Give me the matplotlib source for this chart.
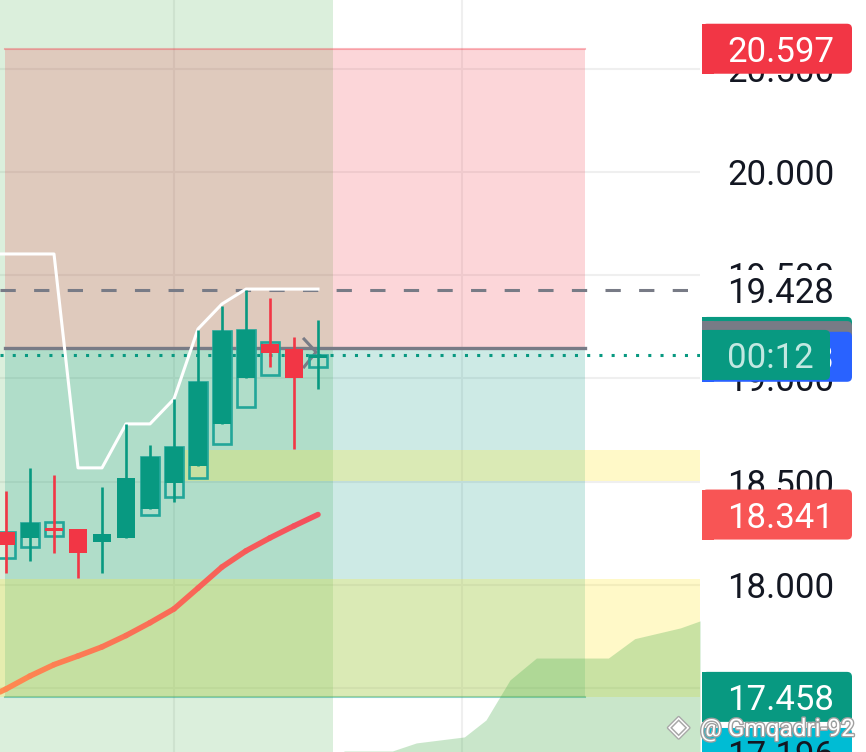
# Recreation of a trading chart screenshot (candles + position tool + price scale)
import numpy as np
import matplotlib.pyplot as plt
from matplotlib.patches import Rectangle, FancyBboxPatch
from matplotlib.collections import LineCollection
from matplotlib.colors import to_rgb
import matplotlib.patheffects as pe

plt.rcParams['font.family'] = ['Roboto', 'DejaVu Sans']

# candles, index 0 = leftmost visible bar
opens  = [18.255, 18.226, 18.275, 18.271, 18.207, 18.226, 18.368, 18.495, 18.578, 18.780, 19.004, 19.167, 19.141, 19.098]
highs  = [18.455, 18.565, 18.533, 18.272, 18.473, 18.780, 18.678, 18.901, 19.235, 19.351, 19.429, 19.388, 19.199, 19.283]
lows   = [18.057, 18.118, 18.153, 18.035, 18.057, 18.226, 18.368, 18.403, 18.578, 18.780, 19.004, 19.057, 18.657, 18.948]
closes = [18.194, 18.299, 18.263, 18.153, 18.247, 18.517, 18.618, 18.668, 18.983, 19.230, 19.235, 19.122, 19.004, 19.114]

# hollow (overlay) candle bodies
ghost_idx = [0, 1, 2, 6, 7, 8, 9, 10, 11, 13]
ghost_top = [18.255, 18.299, 18.304, 18.618, 18.668, 18.983, 19.230, 19.235, 19.178, 19.114]
ghost_bot = [18.129, 18.185, 18.239, 18.337, 18.425, 18.520, 18.683, 18.861, 19.017, 19.054]

# moving average
ma_x = [-0.25, 0, 1, 2, 3, 4, 5, 6, 7, 8, 9, 10, 11, 12, 13]
ma_y = [17.482, 17.496, 17.559, 17.614, 17.656, 17.700, 17.755, 17.817, 17.884,
        17.985, 18.087, 18.165, 18.228, 18.286, 18.341]

# white stepped indicator
wl_x = [-0.25, 2, 3, 4, 5, 6, 7, 8, 9, 10, 13]
wl_y = [19.603, 19.603, 18.567, 18.567, 18.780, 18.780, 18.901, 19.240, 19.361, 19.433, 19.433]

# cloud upper edge
cloud_x = [14.08, 16.1, 17.1, 19.1, 20.0, 21.0, 22.1, 25.1, 26.2, 28.1, 28.92]
cloud_y = [17.196, 17.196, 17.235, 17.264, 17.346, 17.540, 17.646, 17.646, 17.740, 17.792, 17.826]

# levels
stop_price = 20.597
entry_price = 19.148
target_price = 17.458
last_price = 19.114
high_level = 19.428
ma_last = 18.341
cloud_label = 17.196
zone1 = (18.504, 18.654)
zone2 = (17.458, 18.029)
pos_left, pos_right = -0.04, 24.125
session_end = 13.625
zone1_left = 7.42
chev_x = [12.42, 12.92, 12.42]
chev_y = [19.191, 19.128, 19.056]

grid_prices = [20.5, 20.0, 19.5, 19.0, 18.5, 18.0, 17.5]
grid_bars = [7, 19]

YLIM = (17.191, 20.833)
XLIM = (-0.25, 28.917)
PX = (YLIM[1] - YLIM[0]) / 752.0

TEAL = '#089981'
RED = '#F23645'

fig = plt.figure(figsize=(8.66, 7.52), dpi=100)
ax = fig.add_axes([0, 0, 700 / 866, 1])
ax.set_xlim(*XLIM)
ax.set_ylim(*YLIM)
ax.axis('off')

# grid
for p in grid_prices:
    ax.axhline(p, color='#EFEFEF', lw=1.5, zorder=0)
for b in grid_bars:
    ax.axvline(b, color='#EFEFEF', lw=1.5, zorder=0)

# session band
ax.axvspan(XLIM[0], session_end, color='#4CAF50', alpha=0.2, lw=0, zorder=1)

# position tool
ax.add_patch(Rectangle((pos_left, entry_price), pos_right - pos_left, stop_price - entry_price,
                       fc=RED, alpha=0.2, lw=0, zorder=2))
ax.add_patch(Rectangle((pos_left, target_price), pos_right - pos_left, entry_price - target_price,
                       fc=TEAL, alpha=0.2, lw=0, zorder=2))
ax.plot([pos_left, pos_right], [stop_price, stop_price], color=RED, alpha=0.35, lw=1.5, zorder=2)
ax.plot([pos_left, pos_right], [target_price, target_price], color=TEAL, alpha=0.45, lw=1.5, zorder=2)

# yellow zones
ax.add_patch(Rectangle((zone1_left, zone1[0]), XLIM[1] - zone1_left, zone1[1] - zone1[0],
                       fc='#FFEB3B', alpha=0.28, lw=0, zorder=3))
ax.add_patch(Rectangle((XLIM[0], zone2[0]), XLIM[1] - XLIM[0], zone2[1] - zone2[0],
                       fc='#FFEB3B', alpha=0.28, lw=0, zorder=3))

# cloud
ax.fill_between(cloud_x, cloud_y, 17.0, color='#4CAF50', alpha=0.3, lw=0, zorder=3)

# level lines
ax.plot([pos_left, pos_right], [entry_price, entry_price], color='#787B86', lw=2.4, zorder=4)
ax.axhline(high_level, color='#787B86', lw=2.2, dashes=(5, 6), zorder=4)
ax.axhline(last_price, color=TEAL, lw=2.2, dashes=(1, 3), zorder=4)

# white indicator
ax.plot(wl_x, wl_y, color='white', lw=2.2, zorder=5)

# gradient moving average
pts = np.column_stack([ma_x, ma_y])
segs = np.stack([pts[:-1], pts[1:]], axis=1)
c0, c1 = np.array(to_rgb('#FF8C50')), np.array(to_rgb('#F5505C'))
t = np.linspace(0, 1, len(segs))
cols = [tuple(c0 + (c1 - c0) * v) for v in t]
ax.add_collection(LineCollection(segs, colors=cols, linewidths=4, capstyle='round', zorder=5))

# chevron
ax.plot(chev_x, chev_y, color='#787B86', lw=2.2, zorder=5)

# hollow candles
bw = 0.76
for i, top, bot in zip(ghost_idx, ghost_top, ghost_bot):
    ax.add_patch(Rectangle((i - bw / 2, bot), bw, top - bot, fc='none', ec='#22A699', lw=1.9, zorder=6))

# candles
for i, (o, h, l, c) in enumerate(zip(opens, highs, lows, closes)):
    col = TEAL if c >= o else RED
    ax.plot([i, i], [l, h], color=col, lw=1.9, solid_capstyle='butt', zorder=7)
    ax.add_patch(Rectangle((i - bw / 2, min(o, c)), bw, max(abs(c - o), 2 * PX), fc=col, lw=0, zorder=7))

# price scale
ax2 = fig.add_axes([700 / 866, 0, 166 / 866, 1])
ax2.set_xlim(700, 866)
ax2.set_ylim(*YLIM)
ax2.axis('off')

FS = 25
for p in grid_prices:
    ax2.text(727, p, f'{p:.3f}', fontsize=FS, color='#131722', va='center_baseline', ha='left', zorder=1)


def label(price, text, face, tcolor, z, right=852):
    y0 = price - 25 * PX
    ax2.add_patch(FancyBboxPatch((702, y0), right - 702, 50 * PX, boxstyle='round,pad=0,rounding_size=5',
                                 mutation_aspect=PX, fc=face, ec='none', zorder=z))
    ax2.add_patch(Rectangle((702, y0), 12, 50 * PX, fc=face, ec='none', zorder=z))
    if text:
        ax2.text(727, price, text, fontsize=FS, color=tcolor, va='center_baseline', ha='left', zorder=z + 0.5)


label(stop_price, f'{stop_price:.3f}', RED, 'white', 2)
ax2.add_patch(Rectangle((702, high_level - 20 * PX), 150, 40 * PX, fc='white', ec='none', zorder=3))
ax2.text(727, high_level, f'{high_level:.3f}', fontsize=FS, color='#131722', va='center_baseline', ha='left', zorder=3.5)
label(19.177, '', TEAL, 'white', 4)
label(19.157, '', '#787B86', 'white', 5)
label(19.105, '19.113', '#2962FF', 'white', 6)
label(last_price, '00:12', TEAL, '#C2E8E1', 7, right=830)
label(ma_last, f'{ma_last:.3f}', '#F85555', 'white', 8)
label(target_price, f'{target_price:.3f}', TEAL, 'white', 9)
label(cloud_label - 2 * PX, f'{cloud_label:.3f}', '#00BCD4', '#131722', 10)

# watermark
fig.text(668 / 866, 1 - 727 / 752, '◈', fontsize=20, color='white', family='DejaVu Sans',
         va='center', ha='left', path_effects=[pe.withStroke(linewidth=2, foreground='#A8A8A8')], zorder=20)
fig.text(700 / 866, 1 - 727 / 752, '@ Gmqadri-92', fontsize=17.5, color='white', va='center_baseline',
         ha='left', path_effects=[pe.withStroke(linewidth=2, foreground='#A0A0A0')], zorder=20)

fig.savefig('out.png', dpi=100, facecolor='white')
